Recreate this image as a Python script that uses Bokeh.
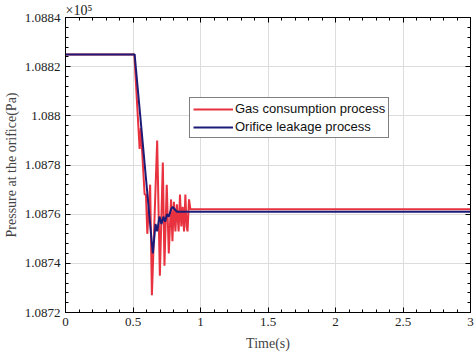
from bokeh.plotting import figure
from bokeh.models import LinearAxis, FixedTicker, Legend, LegendItem, Range1d
from bokeh.embed import file_html
from bokeh.resources import INLINE

# ---- data (pressure in units of 1e5 Pa) ----
t_gas = [0, 0.510, 0.549, 0.558, 0.586, 0.596, 0.606, 0.627, 0.640, 0.679, 0.699,
         0.721, 0.733, 0.750, 0.765, 0.782, 0.792, 0.803, 0.814, 0.825, 0.838, 0.848,
         0.858, 0.868, 0.878, 0.888, 0.897, 0.904, 0.915, 0.925, 3.0]
p_gas = [1.08825, 1.08825, 1.087865, 1.08795, 1.08768, 1.08768, 1.08752, 1.08772, 1.08727,
         1.08790, 1.08735, 1.08781, 1.08739, 1.08772, 1.08744, 1.08766, 1.08749, 1.08765,
         1.08753, 1.08764, 1.08753, 1.08768, 1.08755, 1.08763, 1.08753, 1.08768, 1.08755,
         1.08753, 1.08766, 1.08762, 1.08762]

t_leak = [0, 0.512, 0.647, 0.667, 0.679, 0.696, 0.711, 0.725, 0.738, 0.752, 0.765,
          0.782, 0.794, 0.809, 0.824, 3.0]
p_leak = [1.08825, 1.08825, 1.08744, 1.08756, 1.08753, 1.08759, 1.08756, 1.08759,
          1.08757, 1.08760, 1.08759, 1.08762, 1.08763, 1.08762, 1.08761, 1.08761]

x_ticks = [0, 0.5, 1, 1.5, 2, 2.5, 3]
x_tick_labels = ["0", "0.5", "1", "1.5", "2", "2.5", "3"]
y_ticks = [1.0872, 1.0874, 1.0876, 1.0878, 1.088, 1.0882, 1.0884]
y_tick_labels = ["1.0872", "1.0874", "1.0876", "1.0878", "1.088", "1.0882", "1.0884"]
series_names = ["Gas consumption process", "Orifice leakage process"]
scale_text = "×10⁵"

RED = "#e8323f"
BLUE = "#1c1c78"
SERIF = "Liberation Serif"

p = figure(width=474, height=353, output_backend="svg", toolbar_location=None,
           x_range=Range1d(0, 3), y_range=Range1d(1.0872, 1.0884),
           min_border_left=4, min_border_right=4, min_border_top=0, min_border_bottom=4)
p.outline_line_color = None

p.title.text = scale_text
p.title.align = "left"
p.title.text_font = SERIF
p.title.text_font_style = "normal"
p.title.text_font_size = "14px"
p.title.text_color = "#222222"
p.title.standoff = 0
p.title.offset = 0

r1 = p.line(t_gas, p_gas, line_color=RED, line_width=2)
r2 = p.line(t_leak, p_leak, line_color=BLUE, line_width=2)

minor_x = [i * 0.1 for i in range(31)]
minor_y = [1.0872 + i * 0.00004 for i in range(31)]

def style(ax, ticks, minors, labels=None):
    ax.ticker = FixedTicker(ticks=ticks, minor_ticks=minors)
    ax.axis_line_color = "black"
    ax.axis_line_width = 1
    ax.major_tick_in = 5
    ax.major_tick_out = 0
    ax.minor_tick_in = 3
    ax.minor_tick_out = 0
    ax.major_tick_line_color = "black"
    ax.minor_tick_line_color = "black"
    if labels is None:
        ax.major_label_overrides = {t: "" for t in ticks}
        ax.major_label_standoff = 0
    else:
        ax.major_label_overrides = {t: l for t, l in zip(ticks, labels)}
        ax.major_label_text_font = SERIF
        ax.major_label_text_font_size = "13px"
        ax.major_label_text_color = "#222222"

xa = p.xaxis[0]
style(xa, x_ticks, minor_x, x_tick_labels)
xa.major_label_standoff = 5
xa.axis_label = "Time(s)"
xa.axis_label_text_font = SERIF
xa.axis_label_text_font_style = "normal"
xa.axis_label_text_font_size = "14px"
xa.axis_label_standoff = 7

ya = p.yaxis[0]
style(ya, y_ticks, minor_y, y_tick_labels)
ya.major_label_standoff = 5
ya.axis_label = "Pressure at the orifice(Pa)"
ya.axis_label_text_font = SERIF
ya.axis_label_text_font_style = "normal"
ya.axis_label_text_font_size = "14px"
ya.axis_label_standoff = 3

top = LinearAxis()
style(top, x_ticks, minor_x)
p.add_layout(top, "above")
right = LinearAxis()
style(right, y_ticks, minor_y)
p.add_layout(right, "right")

p.xgrid.ticker = FixedTicker(ticks=x_ticks)
p.ygrid.ticker = FixedTicker(ticks=y_ticks)
p.xgrid.grid_line_color = "#dcdcdc"
p.ygrid.grid_line_color = "#dcdcdc"

legend = Legend(items=[LegendItem(label=series_names[0], renderers=[r1]),
                       LegendItem(label=series_names[1], renderers=[r2])],
                location=(124, 174))
legend.border_line_color = "black"
legend.border_line_width = 1
legend.background_fill_alpha = 1
legend.label_text_font = "Liberation Sans"
legend.label_text_font_size = "13px"
legend.label_text_color = "#111111"
legend.glyph_width = 40
legend.glyph_height = 14
legend.label_height = 14
legend.label_standoff = 2
legend.spacing = 3
legend.padding = 3
legend.margin = 0
p.add_layout(legend, "center")

open("out.html", "w").write(file_html(p, INLINE))
